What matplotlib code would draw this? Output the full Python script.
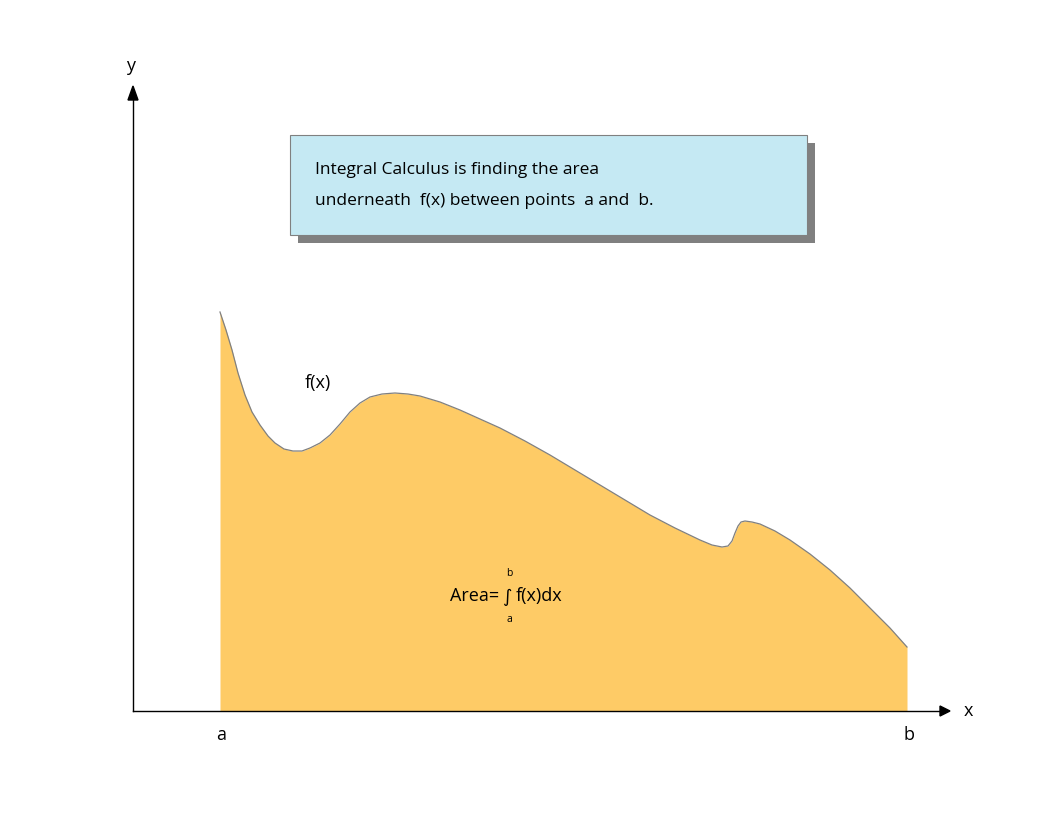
import matplotlib
matplotlib.use("Agg")
import matplotlib.pyplot as plt
from matplotlib.patches import Rectangle, FancyArrow

plt.rcParams['font.family'] = ['Open Sans', 'DejaVu Sans']

# curve points (pixel-space data)
curve_x = [220, 226, 232, 238, 245, 252, 260, 268, 275, 284, 293, 302, 310, 320, 330, 340, 350, 360, 370, 382, 395, 408, 420, 440, 460, 480, 500, 525, 550, 575, 600, 625, 650, 675, 700, 712, 722, 728, 732, 735, 738, 741, 745, 752, 760, 775, 790, 810, 830, 850, 870, 890, 907]
curve_y = [312, 330, 350, 373, 395, 412, 425, 436, 443, 449, 451, 451, 448, 443, 435, 424, 412, 403, 397, 394, 393, 394, 396, 402, 410, 419, 428, 441, 455, 470, 485, 500, 515, 528, 540, 545, 547, 546, 541, 533, 526, 522, 521, 522, 524, 531, 540, 554, 570, 588, 608, 628, 647]
baseline = 711

fig = plt.figure(figsize=(10.56, 8.16), dpi=100)
ax = fig.add_axes([0, 0, 1, 1])
ax.set_xlim(0, 1056)
ax.set_ylim(816, 0)
ax.axis('off')

ax.fill_between(curve_x, curve_y, baseline, color='#FECB66', lw=0)
ax.plot(curve_x, curve_y, color='#808080', lw=0.9)

# axes with arrows
ax.plot([133, 940], [711, 711], color='black', lw=1)
ax.plot([133, 133], [711, 96], color='black', lw=1)
ax.fill([940, 940, 950], [706, 716, 711], color='black')
ax.fill([128, 138, 133], [100, 100, 86], color='black')

# box with shadow
ax.add_patch(Rectangle((298, 143), 517, 100, color='#808080', lw=0))
ax.add_patch(Rectangle((290, 135), 517, 100, facecolor='#C5E9F3', edgecolor='#808080', lw=0.8))
ax.text(315, 170, "Integral Calculus is finding the area", fontsize=12.5, va='center')
ax.text(315, 201, "underneath  f(x) between points  a and  b.", fontsize=12.5, va='center')

ax.text(131, 66, "y", fontsize=13, ha='center', va='center')
ax.text(968, 711, "x", fontsize=13, ha='center', va='center')
ax.text(221, 735, "a", fontsize=13, ha='center', va='center')
ax.text(909, 735, "b", fontsize=13, ha='center', va='center')
ax.text(318, 383, "f(x)", fontsize=13, ha='center', va='center')

ax.text(499, 596, "Area=", fontsize=13, ha='right', va='center')
ax.text(507, 597, "∫", fontsize=13, ha='center', va='center', family=['DejaVu Sans'])
ax.text(509, 574, "b", fontsize=7.5, ha='center', va='center')
ax.text(509, 620, "a", fontsize=7.5, ha='center', va='center')
ax.text(516, 596, "f(x)dx", fontsize=13, ha='left', va='center')

fig.savefig("out.png", dpi=100)
